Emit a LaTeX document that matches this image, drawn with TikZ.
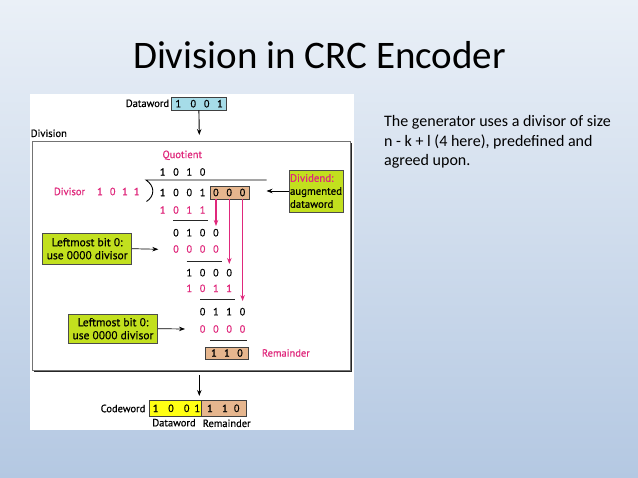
\documentclass[tikz,border=0pt]{standalone}
\usepackage{fontspec}
\setmainfont{Carlito}
\newfontfamily\figfont{PT Sans}[FakeBold=0.6]
\usetikzlibrary{arrows.meta}
\definecolor{bgtop}{HTML}{EAF0F7}
\definecolor{bgbot}{HTML}{B4C8E2}
\definecolor{mag}{HTML}{E0287C}
\definecolor{lime}{HTML}{C2E01E}
\definecolor{tanc}{HTML}{E6B68E}
\definecolor{cyanbox}{HTML}{A6DCE8}
\definecolor{ybox}{HTML}{FFFF14}
\tikzset{
 lbl/.style={font=\figfont\fontsize{10.5}{12}\selectfont, inner sep=0pt},
 dig/.style={lbl, anchor=center},
 cellbox/.style={draw=black!75, line width=0.6pt, inner sep=0pt},
 greenbox/.style={draw=black!70, fill=lime, line width=0.6pt, align=center, font=\figfont\fontsize{11.5}{13}\selectfont, inner sep=0pt},
 arr/.style={-{Stealth[length=6pt,width=4.5pt]}, line width=0.9pt, black},
 marr/.style={-{Stealth[length=6pt,width=4.5pt]}, line width=1.2pt, mag},
 divrule/.style={line width=0.7pt, black!85},
 bodytxt/.style={font=\fontsize{16}{20}\selectfont, inner sep=0pt, anchor=base west},
}
\newcommand\digrow[5]{%
 \foreach \d [count=\k from #3] in {#5} {\node[dig,text=#4] (#1-\k) at ({162.7+13.3*\k},#2) {\d};}}
\begin{document}
\begin{tikzpicture}[x=1pt,y=-1pt]
\useasboundingbox (0,0) rectangle (638,478);
\shade[top color=bgtop, bottom color=bgbot] (0,0) rectangle (638,478);
% title
\node[font=\fontsize{39}{44}\selectfont, inner sep=0pt] (title) at (319.5,55) {Division in CRC Encoder};
% body text
\node[bodytxt] (t1) at (384,127) {The generator uses a divisor of size};
\node[bodytxt] (t2) at (384,146.5) {n - k + l (4 here), predefined and};
\node[bodytxt] (t3) at (384,166) {agreed upon.};
% white panel
\fill[white] (30,94) rectangle (354,430);
% top dataword
\node[lbl, anchor=east] (dwlbl) at (169.3,103.3) {Dataword};
\node[cellbox, fill=cyanbox, minimum width=54.3pt, minimum height=12.7pt] (dwbox) at (198.9,103.7) {};
\foreach \x/\d [count=\k] in {178.3/1,193.3/0,206.7/0,220/1} {\node[dig] (dw-\k) at (\x,103.7) {\d};}
\coordinate (toparrowend) at (199.3,135);
\draw[arr] (dwbox.south) -- (toparrowend);
\node[lbl, anchor=west] (divlbl) at (30.5,133.3) {Division};
% big box with shadow
\fill[black!85] (34,143) rectangle (352,372);
\draw[fill=white, draw=black!55, line width=0.6pt] (32,141) rectangle (350,370);
% quotient
\node[lbl, text=mag] (quot) at (182.3,155.3) {Quotient};
\digrow{q}{172}{0}{black}{1,0,1,0}
% divisor
\node[lbl, text=mag] (divisor) at (69.5,191.5) {Divisor};
\foreach \x/\d [count=\k] in {100/1,112.7/0,125/1,136.7/1} {\node[dig,text=mag] (dv-\k) at (\x,191.5) {\d};}
\coordinate (lineL) at (146,180);
\coordinate (lineR) at (266.7,180);
\draw[line width=0.9pt] (lineR) -- (lineL) .. controls (155,186) and (155,196) .. (146.5,201.5);
% dividend
\node[cellbox, fill=tanc, minimum width=38.6pt, minimum height=13.3pt] (augbox) at (230,192.5) {};
\digrow{dd}{192.5}{0}{black}{1,0,0,1,0,0,0}
\node[greenbox, minimum width=54pt, minimum height=42pt, align=left, font=\figfont\fontsize{10.8}{13}\selectfont] (dividend) at (316,191) {\textcolor{mag}{Dividend:}\\augmented\\dataword};
\coordinate (divarrowend) at (266.5,191);
\draw[arr, line width=0.7pt] (dividend.west) -- (divarrowend);
% steps
\digrow{s1}{210}{0}{mag}{1,0,1,1}
\coordinate (r1a) at (173,220.7); \coordinate (r1b) at (208,220.7);
\draw[divrule] (r1a) -- (r1b);
\digrow{r2}{232.7}{1}{black}{0,1,0,0}
\digrow{s2}{249}{1}{mag}{0,0,0,0}
\coordinate (r2a) at (186.7,261); \coordinate (r2b) at (221.7,261);
\draw[divrule] (r2a) -- (r2b);
\digrow{r3}{272.7}{2}{black}{1,0,0,0}
\digrow{s3}{288.3}{2}{mag}{1,0,1,1}
\coordinate (r3a) at (200,299); \coordinate (r3b) at (235,299);
\draw[divrule] (r3a) -- (r3b);
\digrow{r4}{311.7}{3}{black}{0,1,1,0}
\digrow{s4}{329}{3}{mag}{0,0,0,0}
\coordinate (r4a) at (210,340.3); \coordinate (r4b) at (247,340.3);
\draw[divrule] (r4a) -- (r4b);
% remainder
\node[cellbox, fill=tanc, minimum width=43.3pt, minimum height=12pt] (rembox) at (226.7,353) {};
\foreach \x/\d [count=\k] in {214/1,227/1,240/0} {\node[dig] (rm-\k) at (\x,353) {\d};}
\node[lbl, text=mag, anchor=west] (remlbl) at (261.7,353) {Remainder};
% magenta arrows
\coordinate (m1) at (216,226);
\coordinate (m2) at (229.3,264);
\coordinate (m3) at (242.6,301);
\draw[marr] (augbox.south -| m1) -- (m1);
\draw[marr] (augbox.south -| m2) -- (m2);
\draw[marr] (augbox.south -| m3) -- (m3);
% green notes
\node[greenbox, minimum width=89pt, minimum height=31pt] (note1) at (87.2,248.7) {Leftmost bit 0:\\use 0000 divisor};
\coordinate (n1end) at (158.3,249.3);
\draw[arr, line width=0.7pt] (note1.east) -- (n1end);
\node[greenbox, minimum width=89.4pt, minimum height=29.3pt] (note2) at (113,328.7) {Leftmost bit 0:\\use 0000 divisor};
\coordinate (n2end) at (185,329);
\draw[arr, line width=0.7pt] (note2.east) -- (n2end);
% bottom arrow and codeword
\coordinate (botstart) at (199.3,375);
\coordinate (botend) at (199.3,396);
\draw[arr] (botstart) -- (botend);
\node[lbl, anchor=east] (cwlbl) at (145.5,408.5) {Codeword};
\node[cellbox, fill=ybox, minimum width=52.4pt, minimum height=15.3pt] (cwy) at (175.5,408.3) {};
\node[cellbox, fill=tanc, minimum width=45pt, minimum height=15.3pt] (cwt) at (224.2,408.3) {};
\foreach \x/\d [count=\k] in {155.7/1,171/0,186.7/0,197.3/1,210/1,225/1,236.7/0} {\node[dig] (cw-\k) at (\x,408.3) {\d};}
\node[lbl] (cwdw) at (174,422.7) {Dataword};
\node[lbl] (cwrm) at (226.7,423.3) {Remainder};
\end{tikzpicture}
\end{document}
